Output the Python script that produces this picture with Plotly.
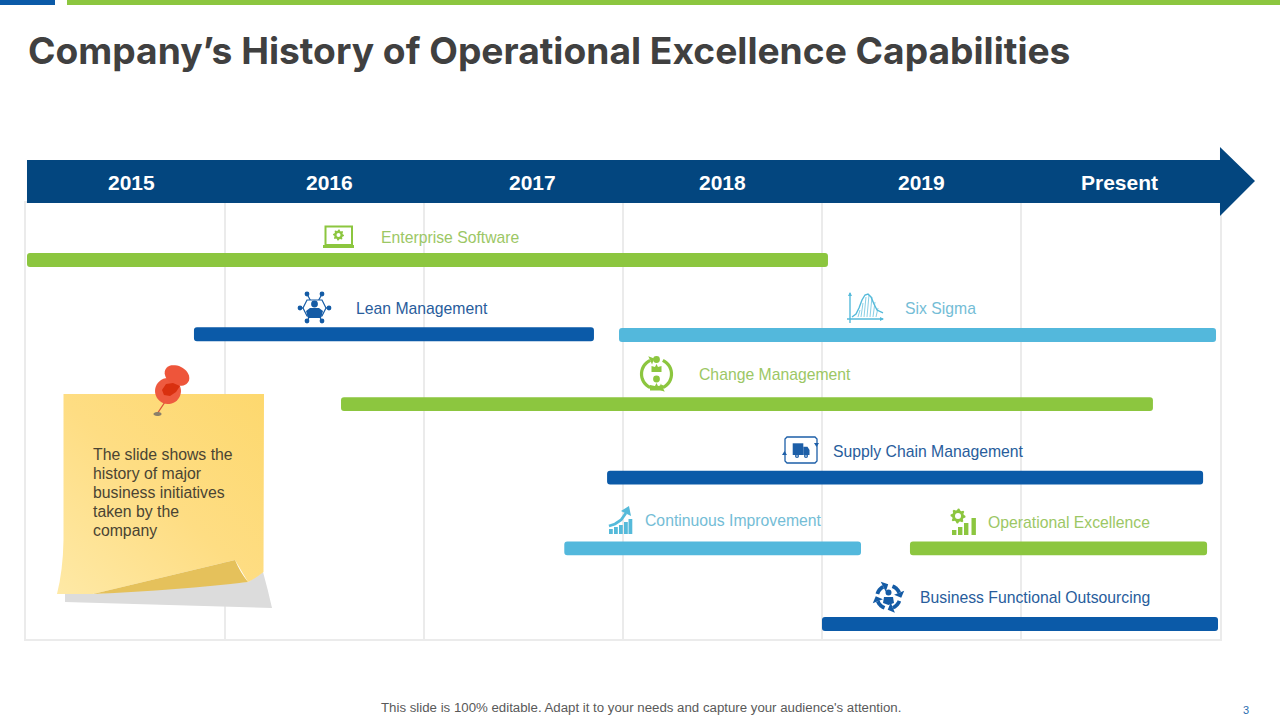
import base64

import numpy as np
import plotly.graph_objects as go

# data
periods = ['2015', '2016', '2017', '2018', '2019', 'Present']
initiatives = ['Enterprise Software', 'Lean Management', 'Six Sigma', 'Change Management',
               'Supply Chain Management', 'Continuous Improvement', 'Operational Excellence',
               'Business Functional Outsourcing']
start_year = [2015.005, 2015.844, 2017.98, 2016.583, 2017.92, 2017.705, 2019.442, 2019.0]
end_year = [2019.03, 2017.854, 2020.98, 2020.663, 2020.915, 2019.196, 2020.935, 2020.99]
lane = [1, 2.02, 2.03, 2.98, 3.99, 4.96, 4.96, 6]

note_lines = ['The slide shows the', 'history of major', 'business initiatives', 'taken by the', 'company']

GREEN = '#8cc63f'
BLUE = '#0b5aa8'
SKY = '#53b8dc'
NAVY = '#03467f'
bar_colors = [GREEN, BLUE, SKY, GREEN, BLUE, SKY, GREEN, BLUE]
label_colors = ['#9cc765', '#285d9c', '#74bdd6', '#9cc765', '#285d9c', '#74bdd6', '#9cc765', '#285d9c']

# layout in screen pixels
label_px = [(379, 237.5), (354, 308), (903, 308), (697, 374), (831, 451), (643, 520), (986, 522), (918, 597)]
period_px = [131.5, 329.5, 532.5, 722.5, 921.5, 1119.5]
note_y_px = [454.5, 473.5, 492.5, 511.5, 530.5]


def px(x):
    return x / 1280


def py(y):
    return 1 - y / 720


shapes = []


def poly(pts, fill=None, line=None, width=0, close=True):
    d = 'M' + ' L'.join(f'{px(x):.5f},{py(y):.5f}' for x, y in pts) + (' Z' if close else '')
    shapes.append(dict(type='path', path=d, xref='paper', yref='paper', layer='above',
                       fillcolor=fill if fill else 'rgba(0,0,0,0)',
                       line=dict(color=line if line else 'rgba(0,0,0,0)', width=width)))


def circle(cx, cy, r, fill):
    shapes.append(dict(type='circle', xref='paper', yref='paper', layer='above',
                       x0=px(cx - r), x1=px(cx + r), y0=py(cy + r), y1=py(cy - r),
                       fillcolor=fill, line=dict(width=0)))


def ellipse(cx, cy, rx, ry, rot, fill):
    t = np.linspace(0, 2 * np.pi, 40)
    r = np.radians(rot)
    xs = cx + rx * np.cos(t) * np.cos(r) - ry * np.sin(t) * np.sin(r)
    ys = cy + rx * np.cos(t) * np.sin(r) + ry * np.sin(t) * np.cos(r)
    poly(list(zip(xs, ys)), fill=fill)


def arc(cx, cy, r, a0, a1, width, color):
    t = np.radians(np.linspace(a0, a1, 16))
    poly(list(zip(cx + r * np.cos(t), cy + r * np.sin(t))), line=color, width=width, close=False)


def arrow_on_arc(cx, cy, r, a, size, color):
    # small head at angle a pointing clockwise
    t = np.radians(a)
    x, y = cx + r * np.cos(t), cy + r * np.sin(t)
    dx, dy = -np.sin(t), np.cos(t)
    nx, ny = np.cos(t), np.sin(t)
    poly([(x + dx * size, y + dy * size), (x + nx * size, y + ny * size), (x - nx * size, y - ny * size)], fill=color)


def gear(cx, cy, r, color, hole):
    pts = []
    for i in range(32):
        a = 2 * np.pi * i / 32
        rad = r if (i % 4) < 2 else r * 0.78
        pts.append((cx + rad * np.cos(a), cy + rad * np.sin(a)))
    poly(pts, fill=color)
    circle(cx, cy, hole, 'white')


# top strips and the header arrow
poly([(0, 0), (55, 0), (55, 5), (0, 5)], fill='#0b5aa8')
poly([(67, 0), (1280, 0), (1280, 5), (67, 5)], fill=GREEN)
poly([(27, 160), (1220, 160), (1220, 147), (1255, 181), (1220, 216), (1220, 203), (27, 203)], fill=NAVY)

# laptop
poly([(325.5, 226.5), (352, 226.5), (352, 245), (325.5, 245)], line=GREEN, width=2)
poly([(323, 245), (354, 245), (354, 248), (323, 248)], fill=GREEN)
gear(338.5, 235, 5.5, GREEN, 2)

# network with person
C = '#145ba5'
nodes = [(307, 294), (322, 294), (329, 308), (322, 321), (307, 321), (300, 308)]
for n in nodes:
    poly([n, (314.5, 308)], line=C, width=1.2, close=False)
poly([(307, 300), (322, 300), (326, 308), (322, 316), (307, 316), (303, 308)], fill='white', line=C, width=1.2)
for n in nodes:
    circle(n[0], n[1], 2.4, C)
circle(314.5, 304, 3.4, C)
poly([(306, 311), (310, 308), (319, 308), (323, 311), (321, 318), (308, 318)], fill=C)

# bell curve
S = '#55bada'
poly([(850, 293), (850, 323)], line=S, width=1.4, close=False)
poly([(847, 319), (883, 319)], line=S, width=1.4, close=False)
poly([(848, 296), (850, 292), (852, 296)], fill=S)
poly([(880, 317), (884, 319), (880, 321)], fill=S)
poly([(852, 317), (856, 314), (859, 308), (862, 300), (865, 295), (868, 294), (871, 297), (874, 304),
      (877, 310), (883, 313)], line=S, width=1.4, close=False)
for hx, top in [(858, 310), (861, 303), (864, 297), (867, 295), (870, 297), (873, 302), (876, 308)]:
    poly([(hx, 317), (hx + 2, top)], line=S, width=0.7, close=False)

# change circle
arc(656.5, 374, 15, 115, 245, 3.2, GREEN)
arc(656.5, 374, 15, -65, 65, 3.2, GREEN)
arrow_on_arc(656.5, 374, 15, 245, 4.5, GREEN)
arrow_on_arc(656.5, 374, 15, 65, 4.5, GREEN)
circle(656.5, 359.5, 3.4, GREEN)
poly([(651.5, 372), (651.5, 366), (655, 367), (656.5, 364), (658, 367), (661.5, 366), (661.5, 372)], fill=GREEN)
circle(656.5, 379, 3.4, GREEN)
poly([(650, 390.5), (650, 385), (655, 386), (656.5, 383), (658, 386), (663, 385), (663, 390.5)], fill=GREEN)

# truck in a loop
D = '#1d5fa8'
poly([(787, 437), (815, 437), (817, 439), (817, 461), (815, 463), (787, 463), (785, 461), (785, 439)],
     line=D, width=1.3)
poly([(792.7, 443.3), (803.3, 443.3), (803.3, 455), (792.7, 455)], fill=D)
poly([(803.3, 446.7), (807.5, 446.7), (809.5, 450), (809.5, 455), (803.3, 455)], fill=D)
circle(797, 456, 2, D)
circle(806, 456, 2, D)
circle(797, 456, 0.8, 'white')
circle(806, 456, 0.8, 'white')
poly([(782, 455), (784.5, 451), (787, 455)], fill=D)
poly([(814, 443), (816.5, 447), (819, 443)], fill=D)

# rising bars with arrow
for bx, top in zip([609, 614, 619, 624, 628.5], [529, 527, 525, 522, 519]):
    poly([(bx, 534), (bx + 3.8, 534), (bx + 3.8, top), (bx, top)], fill=S)
poly([(609, 526), (615, 524), (621, 520), (626, 513)], line=S, width=2.8, close=False)
poly([(621, 511), (629, 506), (631, 516)], fill=S)

# gear and bars
gear(958, 516, 7.5, GREEN, 3)
for bx, top in zip([952, 958, 964, 971.5], [530, 527, 523, 518]):
    poly([(bx, 535), (bx + 4.4, 535), (bx + 4.4, top), (bx, top)], fill=GREEN)

# outsourcing arrows
for a0 in [-165, -70, 20, 110]:
    arc(888.5, 597, 11.5, a0, a0 + 48, 3.8, C)
    arrow_on_arc(888.5, 597, 11.5, a0 + 48, 5.5, C)
circle(888.5, 592.5, 3, C)
poly([(883, 603), (884, 597), (893, 597), (894, 603), (888.5, 605)], fill=C)

# pin
poly([(157, 414), (165, 402)], line='#d8503a', width=1.3, close=False)
ellipse(157.5, 414, 4, 2, 0, '#8a7f6a')
ellipse(168, 391, 13, 13, 0, '#ee5a3f')
ellipse(177, 375.5, 13, 9.5, 28, '#ee553a')
poly([(162, 390), (166, 384), (173, 383), (180, 386), (176, 392), (170, 396), (164, 395)], fill='#d9300f')

# sticky note has a gradient, so it goes in as a small svg image
note_svg = """<svg xmlns="http://www.w3.org/2000/svg" viewBox="50 390 230 225" width="230" height="225">
<defs><linearGradient id="g" x1="0" y1="1" x2="1" y2="0">
<stop offset="0" stop-color="#fee9a6"/><stop offset="0.5" stop-color="#fedd83"/><stop offset="1" stop-color="#fdd86e"/></linearGradient></defs>
<path d="M65 594 L65 602 L272 608 Q268 590 263 572 L248 582 L93 594 Z" fill="#dcdcdc"/>
<path d="M63.5 394 L264 394 L263.5 572 Q256 578 248 582 L235 560 L93 594 L57 594 Q63 570 63.5 540 Z" fill="url(#g)"/>
<path d="M93 594 L235 560 Q240 572 248 582 Q180 590 93 594 Z" fill="#e5c15b"/>
</svg>"""
note_src = 'data:image/svg+xml;base64,' + base64.b64encode(note_svg.encode()).decode()

fig = go.Figure(data=[go.Bar(y=lane, x=[e - s for s, e in zip(start_year, end_year)], base=start_year,
                             orientation='h', width=0.19, marker_color=bar_colors, marker_line_width=0,
                             text=initiatives, textposition='none',
                             hovertemplate='%{text}<extra></extra>')])

annotations = []
for name, (lx, ly), col in zip(initiatives, label_px, label_colors):
    annotations.append(dict(text=name, x=px(lx), y=py(ly), xref='paper', yref='paper', xanchor='left',
                            yanchor='middle', showarrow=False, font=dict(family='Liberation Sans', size=15.75, color=col)))
for name, lx in zip(periods, period_px):
    annotations.append(dict(text='<b>' + name + '</b>', x=px(lx), y=py(182.5), xref='paper', yref='paper',
                            xanchor='center', yanchor='middle', showarrow=False,
                            font=dict(family='Liberation Sans', size=21, color='white')))
for line, ly in zip(note_lines, note_y_px):
    annotations.append(dict(text=line, x=px(91), y=py(ly), xref='paper', yref='paper', xanchor='left',
                            yanchor='middle', showarrow=False, font=dict(family='Liberation Sans', size=15.8, color='#4a4433')))
annotations.append(dict(text="This slide is 100% editable. Adapt it to your needs and capture your audience's attention.",
                        x=px(640.5), y=py(707), xref='paper', yref='paper', xanchor='center', yanchor='middle',
                        showarrow=False, font=dict(family='Liberation Sans', size=13.25, color='#595959')))
annotations.append(dict(text='3', x=px(1246), y=py(710), xref='paper', yref='paper', xanchor='center',
                        yanchor='middle', showarrow=False, font=dict(family='Liberation Sans', size=11, color='#2a6db0')))

fig.update_layout(width=1280, height=720, margin=dict(l=0, r=0, t=0, b=0),
                  paper_bgcolor='white', plot_bgcolor='white', showlegend=False,
                  barcornerradius=3,
                  title=dict(text='<b>Company’s History of Operational Excellence Capabilities</b>',
                             x=px(28), xanchor='left', xref='paper', y=py(51), yanchor='middle',
                             font=dict(family='Inter', size=37.2, color='#404040')),
                  xaxis=dict(domain=[px(26), px(1220)], range=[2015, 2021], dtick=1, tick0=2015,
                             showgrid=True, gridcolor='#ebebeb', gridwidth=1.6, zeroline=False,
                             showticklabels=False, ticks='', showline=True, linecolor='#ebebeb',
                             linewidth=1.6, mirror=True),
                  yaxis=dict(domain=[py(639), py(203)], range=[6.206, 0.217], showgrid=False, zeroline=False,
                             showticklabels=False, ticks='', showline=True, linecolor='#ebebeb',
                             linewidth=1.6, mirror=True),
                  shapes=shapes, annotations=annotations,
                  images=[dict(source=note_src, xref='paper', yref='paper', x=px(50), y=py(390),
                               sizex=230 / 1280, sizey=225 / 720, xanchor='left', yanchor='top',
                               sizing='stretch', layer='above')])

fig.write_html("out.html", config=dict(displayModeBar=False), post_script="document.body.style.margin='0';")
